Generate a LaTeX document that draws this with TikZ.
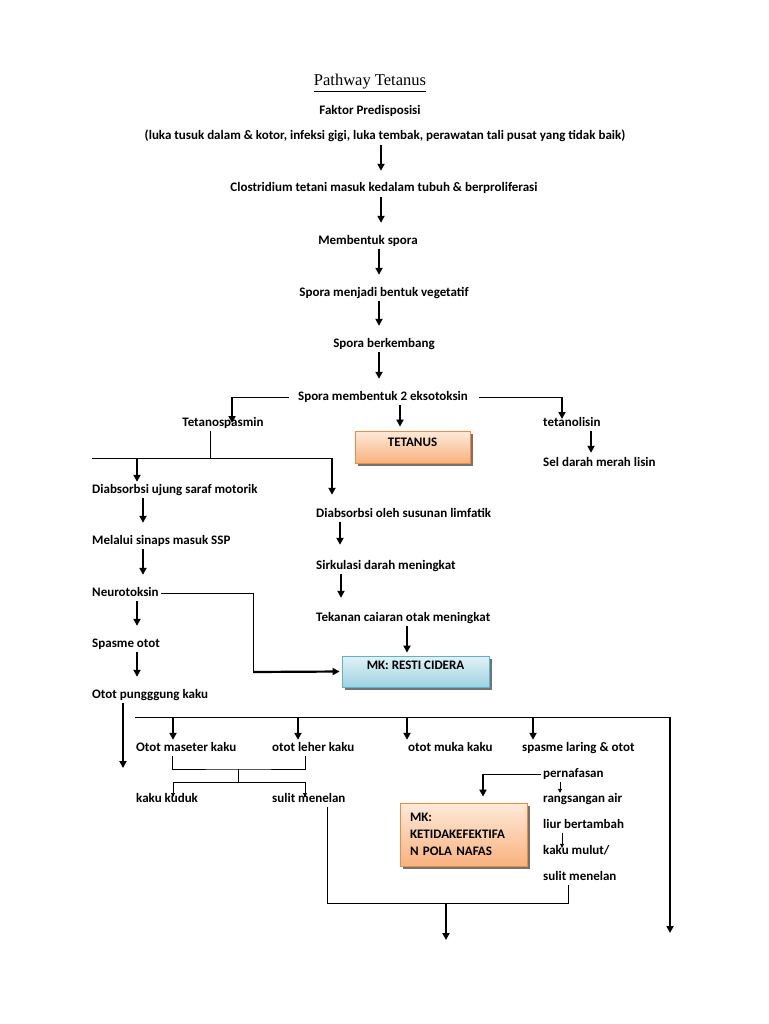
\documentclass[tikz,border=0pt]{standalone}
\usepackage{fontspec}
\setmainfont{Carlito}
\newfontfamily\titlefont{Liberation Serif}
\usetikzlibrary{arrows.meta,shadows}
\definecolor{orangelight}{HTML}{FDEADA}
\definecolor{orangedark}{HTML}{F9B27E}
\definecolor{orangeline}{HTML}{F08A3C}
\definecolor{bluelight}{HTML}{E2F2F7}
\definecolor{bluedark}{HTML}{9ED3E1}
\definecolor{blueline}{HTML}{5AB4CB}
\tikzset{
	txt/.style={inner sep=2pt, text height=9pt, text depth=3pt, font=\fontsize{13}{15}\selectfont\bfseries},
	ltxt/.style={txt, anchor=west},
	titletxt/.style={inner sep=2pt, font=\fontsize{16.5}{19}\selectfont\titlefont},
	line/.style={line width=0.8pt},
	arr/.style={line width=2.2pt, -{Triangle[length=7pt,width=7pt]}},
	chain/.style={arr, shorten >=10pt},
	thinarr/.style={line width=0.6pt, -{Triangle[length=4pt,width=4pt]}},
	orangebox/.style={draw=orangeline, line width=0.8pt, top color=orangelight, bottom color=orangedark,
		drop shadow={shadow xshift=2.5pt, shadow yshift=-2.5pt, fill=black!55, opacity=1},
		font=\fontsize{13}{17}\selectfont\bfseries},
	bluebox/.style={draw=blueline, line width=0.8pt, top color=bluelight, bottom color=bluedark,
		drop shadow={shadow xshift=2.5pt, shadow yshift=-2.5pt, fill=black!55, opacity=1},
		font=\fontsize{13}{17}\selectfont\bfseries}
}
\begin{document}
\begin{tikzpicture}[x=1pt,y=-1pt]
		%%%%% START %%%%%
		\useasboundingbox (0,0) rectangle (768,1024);
		
		\node[titletxt] (title) at (370,83) {\underline{Pathway Tetanus}};
		\node[txt] (faktor) at (370,112) {Faktor Predisposisi};
		\node[txt] (sebab) at (385,137) {(luka tusuk dalam \& kotor, infeksi gigi, luka tembak, perawatan tali pusat yang tidak baik)};
		\node[txt] (clos) at (384,189) {Clostridium tetani masuk kedalam tubuh \& berproliferasi};
		\node[txt] (spora1) at (368,241) {Membentuk spora};
		\node[txt] (spora2) at (384,293) {Spora menjadi bentuk vegetatif};
		\node[txt] (spora3) at (384,344) {Spora berkembang};
		\node[txt] (eksot) at (383,397) {Spora membentuk 2 eksotoksin};
		
		\draw[chain] (sebab.south -| 381,0) -- (clos.north -| 381,0);
		\draw[chain] (clos.south -| 381,0) -- (spora1.north -| 381,0);
		\draw[chain] (spora1.south -| 379,0) -- (spora2.north -| 379,0);
		\draw[chain] (spora2.south -| 379,0) -- (spora3.north -| 379,0);
		\draw[chain] (spora3.south -| 379,0) -- (eksot.north -| 379,0);
		
		% tiga cabang eksotoksin
		\node[txt] (spasmin) at (223,423) {Tetanospasmin};
		\node[orangebox, minimum width=115pt, minimum height=32pt, text height=8pt, text depth=10pt] (tetanus) at (412.5,447) {TETANUS};
		\node[ltxt] (lisin) at (541,423) {tetanolisin};
		\node[ltxt] (sel) at (541,463) {Sel darah merah lisin};
		
		\draw[line, shorten <=7pt] (eksot.west) -- (eksot.west -| 232,0);
		\draw[arr] (eksot.west -| 232,0) -- (spasmin.center -| 232,0);
		\draw[line, shorten <=9pt] (eksot.east) -- (eksot.east -| 562,0);
		\draw[arr, shorten >=4pt] (eksot.east -| 562,0) -- (lisin.center -| 562,0);
		\draw[arr, shorten >=4pt] (eksot.south -| 400,0) -- (tetanus.north -| 400,0);
		\draw[arr, shorten >=2pt] (lisin.south -| 591,0) -- (sel.north -| 591,0);
		
		% jalur kiri
		\coordinate (split) at (210,458);
		\coordinate (splitL) at (92,458);
		\coordinate (splitR) at (332,458);
		\draw[line] (spasmin.south -| split) -- (split);
		\draw[line] (splitL) -- (splitR);
		
		\node[ltxt] (ujung) at (90,490) {Diabsorbsi ujung saraf motorik};
		\node[ltxt] (sinaps) at (90,541) {Melalui sinaps masuk SSP};
		\node[ltxt] (neuro) at (90,593) {Neurotoksin};
		\node[ltxt] (spasme) at (90,644) {Spasme otot};
		\node[ltxt] (punggung) at (90,695) {Otot pungggung kaku};
		
		\draw[arr] (splitL -| 137,0) -- (ujung.north -| 137,0);
		\draw[chain] (ujung.south -| 143,0) -- (sinaps.north -| 143,0);
		\draw[chain] (sinaps.south -| 143,0) -- (neuro.north -| 143,0);
		\draw[chain] (neuro.south -| 137,0) -- (spasme.north -| 137,0);
		\draw[chain] (spasme.south -| 137,0) -- (punggung.north -| 137,0);
		
		% jalur limfatik
		\node[ltxt] (limfa) at (314,514) {Diabsorbsi oleh susunan limfatik};
		\node[ltxt] (sirk) at (314,566) {Sirkulasi darah meningkat};
		\node[ltxt] (tekanan) at (314,618) {Tekanan caiaran otak meningkat};
		\node[bluebox, minimum width=147pt, minimum height=31pt, text height=8pt, text depth=13pt] (resti) at (415.5,671.5) {MK: RESTI CIDERA};
		
		\draw[arr, shorten >=11pt] (splitR) -- (limfa.north -| splitR);
		\draw[arr, shorten >=13pt] (limfa.south -| 340,0) -- (sirk.north -| 340,0);
		\draw[arr, shorten >=12pt] (sirk.south -| 341,0) -- (tekanan.north -| 341,0);
		\draw[arr, shorten >=3pt] (tekanan.south -| 407,0) -- (resti.north -| 407,0);
		
		\coordinate (neuroTurn) at (253,672);
		\draw[line] (neuro.east) -| (neuroTurn);
		\draw[arr, shorten >=2pt] (neuroTurn) -- (resti.west);
		
		% otot kaku
		\coordinate (pgEnd) at (123,768);
		\draw[arr] (punggung.south -| pgEnd) -- (pgEnd);
		
		\coordinate (barL) at (135,717);
		\coordinate (barR) at (670,717);
		\coordinate (barEnd) at (670,933);
		\draw[line] (barL) -- (barR);
		\draw[arr] (barR) -- (barEnd);
		
		\node[ltxt] (maseter) at (134,748) {Otot maseter kaku};
		\node[ltxt] (leher) at (270,748) {otot leher kaku};
		\node[ltxt] (muka) at (406,748) {otot muka kaku};
		\node[ltxt] (laring) at (520,748) {spasme laring \& otot};
		
		\foreach \n/\x in {maseter/173, leher/298, muka/407, laring/533}
			\draw[arr] (barL -| \x,0) -- (\n.north -| \x,0);
		
		\node[ltxt] (kuduk) at (134,799) {kaku kuduk};
		\node[ltxt] (menelan1) at (270,799) {sulit menelan};
		
		\coordinate (brk) at (238,769);
		\coordinate (brkLow) at (238,782);
		\draw[line] (maseter.south -| 172,0) |- (brk) -| (leher.south -| 305,0);
		\draw[line] (brk) -- (brkLow);
		\draw[thinarr, shorten >=2pt] (brkLow) -| (kuduk.center -| 173,0);
		\draw[thinarr, shorten >=2pt] (brkLow) -| (menelan1.center -| 305,0);
		
		% pernafasan
		\node[ltxt] (napas) at (541,774) {pernafasan};
		\node[ltxt] (air) at (541,799) {rangsangan air};
		\node[ltxt] (liur) at (541,825) {liur bertambah};
		\node[ltxt] (mulut) at (541,851) {kaku mulut/};
		\node[ltxt] (menelan2) at (541,877) {sulit menelan};
		\node[orangebox, minimum height=63pt, text width=107pt, inner xsep=10pt, inner ysep=2pt, align=left] (pola) at (463.5,834.5) {MK:\\KETIDAKEFEKTIFA\\N POLA NAFAS\\[-4pt]};
		
		\draw[line] (napas.west) -- (napas.west -| 483,0);
		\draw[arr, shorten >=6pt] (napas.west -| 483,0) -- (pola.north -| 483,0);
		\draw[thinarr, shorten >=-2pt] (napas.south -| 560,0) -- (air.north -| 560,0);
		\draw[thinarr, shorten >=-5pt] (liur.south -| 562,0) -- (mulut.north -| 562,0);
		
		\coordinate (join) at (446,903);
		\coordinate (joinEnd) at (446,940);
		\draw[line] (menelan1.south -| 327,0) |- (join) -| (menelan2.south -| 568,0);
		\draw[arr] (join) -- (joinEnd);
		
		%%%%% END %%%%%
\end{tikzpicture}
\end{document}
